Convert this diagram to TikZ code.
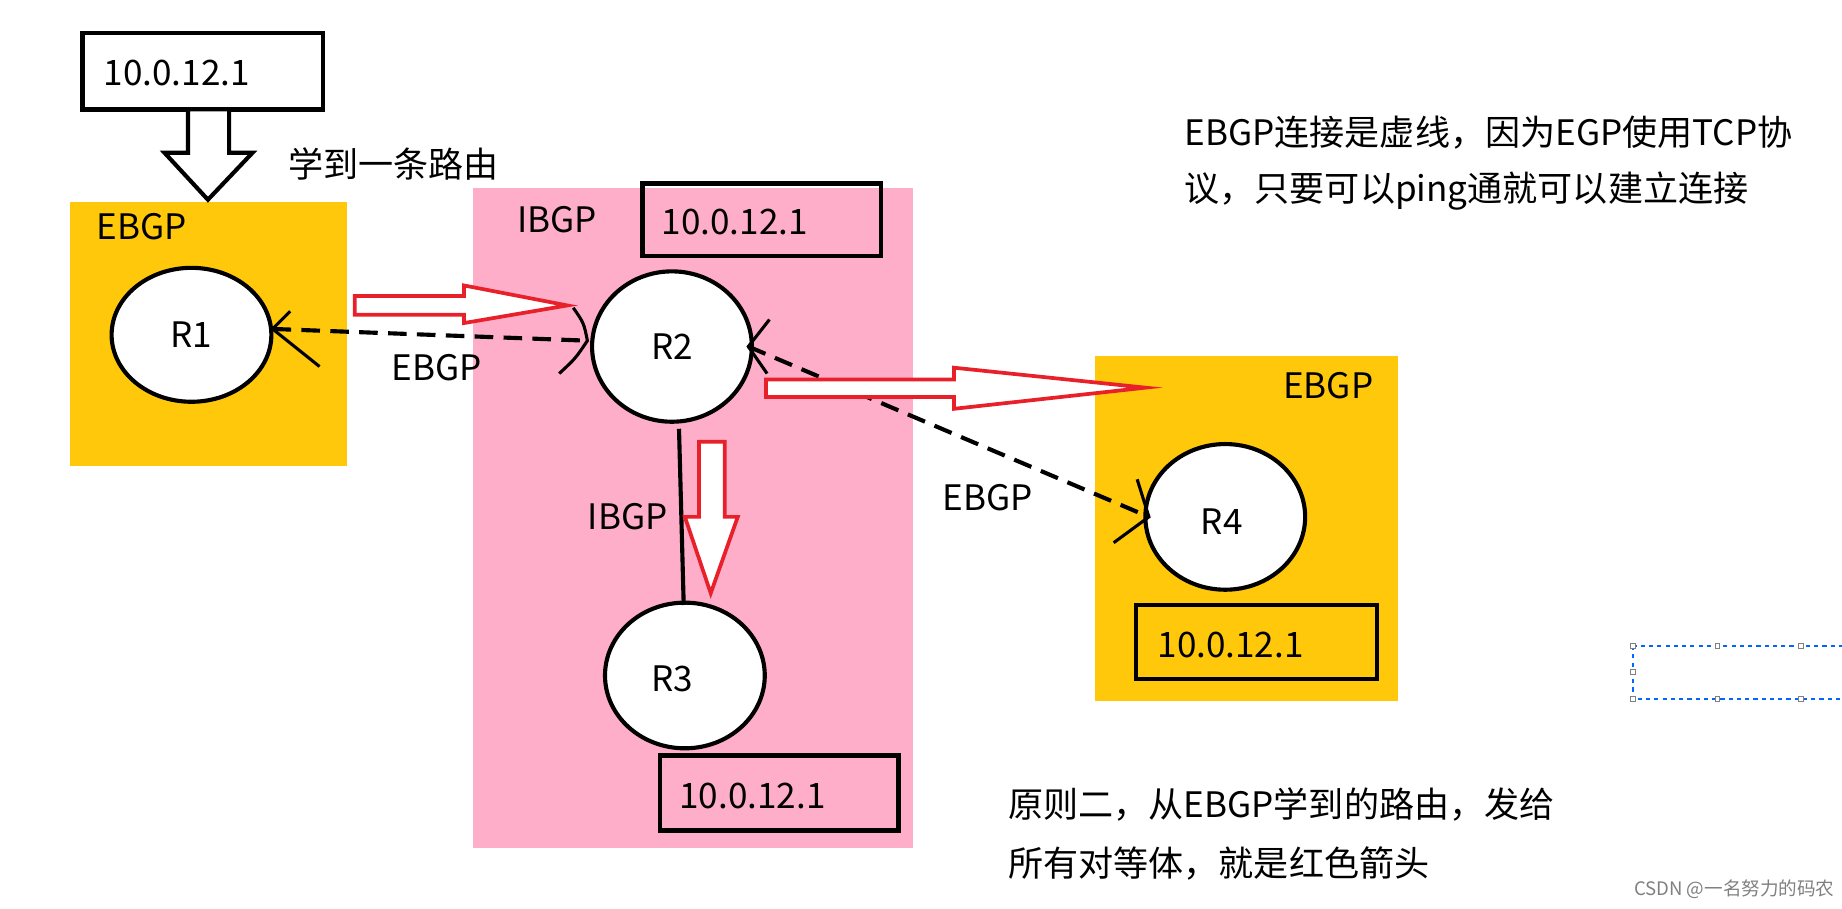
\documentclass[tikz,border=0pt]{standalone}
\usepackage{fontspec}
\setmainfont{Noto Sans CJK SC}
\definecolor{org}{HTML}{FFC80A}
\definecolor{pnk}{HTML}{FFAEC9}
\definecolor{rd}{HTML}{E8202A}
\begin{document}
\begin{tikzpicture}[x=0.02cm,y=-0.02cm,
 lbl/.style={font=\fontsize{17}{20}\selectfont,anchor=west,inner sep=0},
 txt/.style={font=\fontsize{17}{30}\selectfont,anchor=west,inner sep=0},
 ipbox/.style={draw,line width=2.2pt},
 dashlink/.style={line width=2pt,dash pattern=on 9pt off 5pt},
 hand/.style={line width=1.5pt}]
\useasboundingbox (0,0) rectangle (1568,773);
% regions
\fill[org] (60,172) rectangle (295,397);
\fill[pnk] (403,160) rectangle (777,722);
\fill[org] (932,303) rectangle (1190,597);
% boxes
\draw[ipbox] (70,28) rectangle (275,93);
\node[lbl] (b1) at (88,62) {10.0.12.1};
\draw[ipbox] (547,156) rectangle (750,218);
\node[lbl] (b2) at (563,189) {10.0.12.1};
\draw[ipbox] (562,643) rectangle (765,707);
\node[lbl] (b3) at (578,678) {10.0.12.1};
\draw[ipbox] (967,515) rectangle (1172,578);
\node[lbl] (b4) at (985,549) {10.0.12.1};
% hollow down arrow
\draw[line width=2pt,fill=white] (160,93) -- (195,93) -- (195,130) -- (215,130) -- (177,170) -- (140,130) -- (160,130) -- cycle;
\node[lbl] (learn) at (245,140) {学到一条路由};
\node[lbl] (e1) at (82,193) {EBGP};
\node[lbl] (i1) at (440,187) {IBGP};
\node[lbl] (e4) at (1092,328) {EBGP};
% routers
\draw[line width=2pt,fill=white] (163,285) ellipse [x radius=68,y radius=57];
\node (R1) at (163,285) {\fontsize{17}{20}\selectfont R1};
\draw[line width=2pt,fill=white] (572,295) ellipse [x radius=68,y radius=64];
\node (R2) at (572,295) {\fontsize{17}{20}\selectfont R2};
\draw[line width=2pt,fill=white] (583,575) ellipse [x radius=68,y radius=62];
\node (R3) at (572,578) {\fontsize{17}{20}\selectfont R3};
\draw[line width=2pt,fill=white] (1043,440) ellipse [x radius=68,y radius=62];
\node (R4) at (1040,444) {\fontsize{17}{20}\selectfont R4};
% links
\coordinate (p1) at (232,280); \coordinate (p2) at (500,290);
\draw[dashlink] (p1) -- (p2);
\draw[hand] (247,265) -- (232,280) -- (272,312);
\draw[hand] (488,262) .. controls (497,275) .. (500,290) .. controls (490,305) .. (476,318);
\coordinate (p3) at (637,295); \coordinate (p4) at (978,440);
\draw[dashlink] (p3) -- (p4);
\draw[hand] (655,272) -- (637,295) -- (653,318);
\draw[hand] (968,408) -- (978,440) -- (948,462);
\coordinate (p5) at (578,365); \coordinate (p6) at (582,515);
\draw[line width=2pt] (p5) -- (p6);
% red hollow arrows
\draw[rd,line width=1.8pt,fill=white] (302,252) -- (395,252) -- (395,243) -- (483,260) -- (395,275) -- (395,268) -- (302,268) -- cycle;
\draw[rd,line width=1.8pt,fill=white] (652,323) -- (812,323) -- (812,313) -- (975,330) -- (812,348) -- (812,338) -- (652,338) -- cycle;
\draw[rd,line width=1.8pt,fill=white] (595,376) -- (617,376) -- (617,440) -- (628,440) -- (605,505) -- (583,440) -- (595,440) -- cycle;
\node[lbl] (l1) at (333,313) {EBGP};
\node[lbl] (l2) at (802,424) {EBGP};
\node[lbl] (l3) at (500,440) {IBGP};
% notes
\node[txt] (n1) at (1008,113) {EBGP连接是虚线，因为EGP使用TCP协};
\node[txt] (n2) at (1008,163) {议，只要可以ping通就可以建立连接};
\node[txt] (n3) at (858,685) {原则二，从EBGP学到的路由，发给};
\node[txt] (n4) at (858,735) {所有对等体，就是红色箭头};
% selection box
\draw[blue!60!cyan,line width=0.6pt,dash pattern=on 2pt off 2pt] (1390,550) rectangle (1575,595);
\foreach \x/\y in {1390/550,1462/550,1533/550,1390/572,1390/595,1462/595,1533/595}
 \draw[gray,fill=white,line width=0.4pt] (\x-2,\y-2) rectangle (\x+2,\y+2);
\node[font=\fontsize{9}{10}\selectfont,text=gray,anchor=east,inner sep=0] (wm) at (1562,757) {CSDN @一名努力的码农};
\end{tikzpicture}
\end{document}
